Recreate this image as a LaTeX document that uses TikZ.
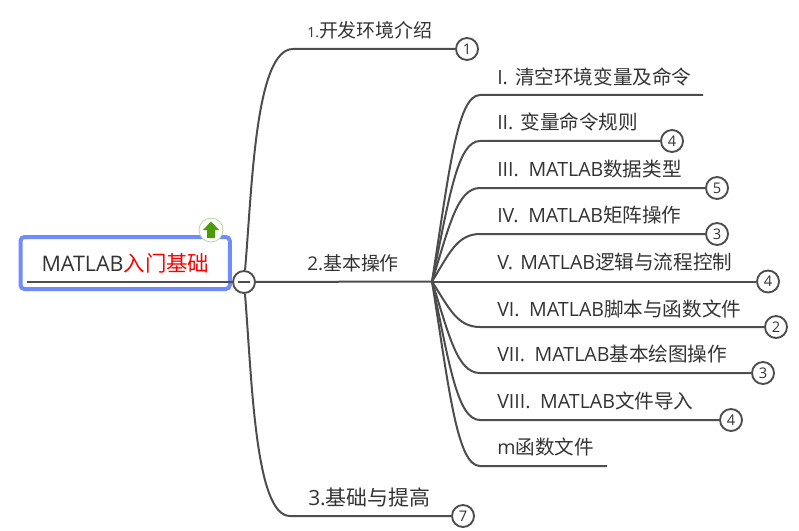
\documentclass[tikz,border=0pt]{standalone}
\usepackage{fontspec}
\setmainfont{Open Sans}
\newfontfamily\cjk{Noto Sans CJK SC}
\newcommand{\zh}[1]{{\cjk #1}}
\newcommand{\gap}{\hspace{3.4pt}}
\newcommand{\gapsmall}{\hspace{1.5pt}}
\definecolor{ink}{HTML}{333333}
\definecolor{wire}{HTML}{4D4D4D}
\definecolor{rootblue}{HTML}{6F8CFF}
\definecolor{upgreen}{HTML}{4C9A06}
\tikzset{
  x=0.75pt,y=-0.75pt,
  wirepath/.style={draw=wire,line width=1.5pt},
  badge/.style={circle,draw=wire,fill=white,line width=1.4pt,minimum size=16.5pt,inner sep=0pt,text=ink,font=\fontsize{11}{12}\selectfont},
  label/.style={anchor=base west,inner sep=0pt,text=ink,font=\fontsize{14.7}{16}\selectfont},
  toplabel/.style={label,font=\fontsize{14.2}{16}\selectfont},
  biglabel/.style={label,font=\fontsize{15.7}{18}\selectfont},
}
\newcommand{\childlink}[3]{% hub, bend coordinate, end node
  \path[wirepath] (#1) .. controls ($(#1)!0.58!(#1|-#2)+(17,0)$) and ($(#2)+(-23,0)$) .. (#2) -- (#3);}
\usetikzlibrary{calc}
\begin{document}
\begin{tikzpicture}
\useasboundingbox (0,0) rectangle (799,531);
% hub and branch coordinates
\coordinate (hub) at (432,281.5);
\coordinate (b1) at (480,95);
\coordinate (b2) at (480,141);
\coordinate (b3) at (480,188);
\coordinate (b4) at (480,234);
\coordinate (b6) at (480,327);
\coordinate (b7) at (480,373);
\coordinate (b8) at (480,420);
\coordinate (b9) at (480,466);
\coordinate (e1) at (703,95);
\coordinate (e9) at (607,466);
\coordinate (topbend) at (293,49);
\coordinate (botbend) at (290,516);
% root
\node[draw=rootblue,fill=white,line width=3pt,rounded corners=3pt,outer sep=0pt,minimum width=157pt,minimum height=39pt,inner sep=0pt,anchor=north west] (root) at (20.5,237) {};
\node[anchor=base,inner sep=0pt,text=ink,font=\fontsize{16.1}{18}\selectfont] (roottext) at (125.5,271) {MATLAB\textcolor{red}{\zh{入门基础}}};
\coordinate (ul) at (27,282);
% collapse
\node[circle,draw=wire,fill=white,line width=1.4pt,minimum size=16.5pt,inner sep=0pt] (toggle) at (244,282) {};
\draw[wirepath] (ul) -- (toggle);
\draw[wirepath] (238,282) -- (250,282);
% level-one links
\node[badge] (n1) at (467,49) {1};
\node[badge] (n3) at (463,516) {7};
\path[wirepath] (toggle) .. controls (252,190) and (255,49) .. (topbend) -- (n1);
\path[wirepath] (toggle) -- (hub);
\path[wirepath] (toggle) .. controls (252,380) and (255,516) .. (botbend) -- (n3);
% badges
\node[badge] (c2) at (672,141) {4};
\node[badge] (c3) at (717,188) {5};
\node[badge] (c4) at (717,234) {3};
\node[badge] (c5) at (768,281.5) {4};
\node[badge] (c6) at (776,327) {2};
\node[badge] (c7) at (763,373) {3};
\node[badge] (c8) at (731,420) {4};
% child links
\childlink{hub}{b1}{e1}
\childlink{hub}{b2}{c2}
\childlink{hub}{b3}{c3}
\childlink{hub}{b4}{c4}
\path[wirepath] (hub) -- (c5);
\childlink{hub}{b6}{c6}
\childlink{hub}{b7}{c7}
\childlink{hub}{b8}{c8}
\childlink{hub}{b9}{e9}
% labels
\node[toplabel] (t1) at (307,37.5) {{\fontsize{10.5}{12}\selectfont 1.}\zh{开发环境介绍}};
\node[toplabel] (t2) at (307,270.5) {2.\zh{基本操作}};
\node[biglabel] (t3) at (308,505) {3.\zh{基础与提高}};
\node[label] (l1) at (497,84.5) {I.\gapsmall{} \zh{清空环境变量及命令}};
\node[label] (l2) at (497,129.5) {II.\gapsmall{} \zh{变量命令规则}};
\node[label] (l3) at (497,176.5) {III.\gap{} MATLAB\zh{数据类型}};
\node[label] (l4) at (497,222.5) {IV.\gap{} MATLAB\zh{矩阵操作}};
\node[label] (l5) at (497,269.5) {V.\gapsmall{} MATLAB\zh{逻辑与流程控制}};
\node[label] (l6) at (497,316.5) {VI.\gap{} MATLAB\zh{脚本与函数文件}};
\node[label] (l7) at (497,361.5) {VII.\gap{} MATLAB\zh{基本绘图操作}};
\node[label] (l8) at (497,408.5) {VIII.\gap{} MATLAB\zh{文件导入}};
\node[label] (l9) at (497,454.5) {m\zh{函数文件}};
% priority icon
\node[circle,draw=upgreen!40,fill=white,line width=0.6pt,minimum size=18pt,inner sep=0pt] (icon) at (211,230) {};
\fill[upgreen] (211,221.5) -- (219,230) -- (215,230) -- (215,238) -- (207,238) -- (207,230) -- (203,230) -- cycle;
\end{tikzpicture}
\end{document}
